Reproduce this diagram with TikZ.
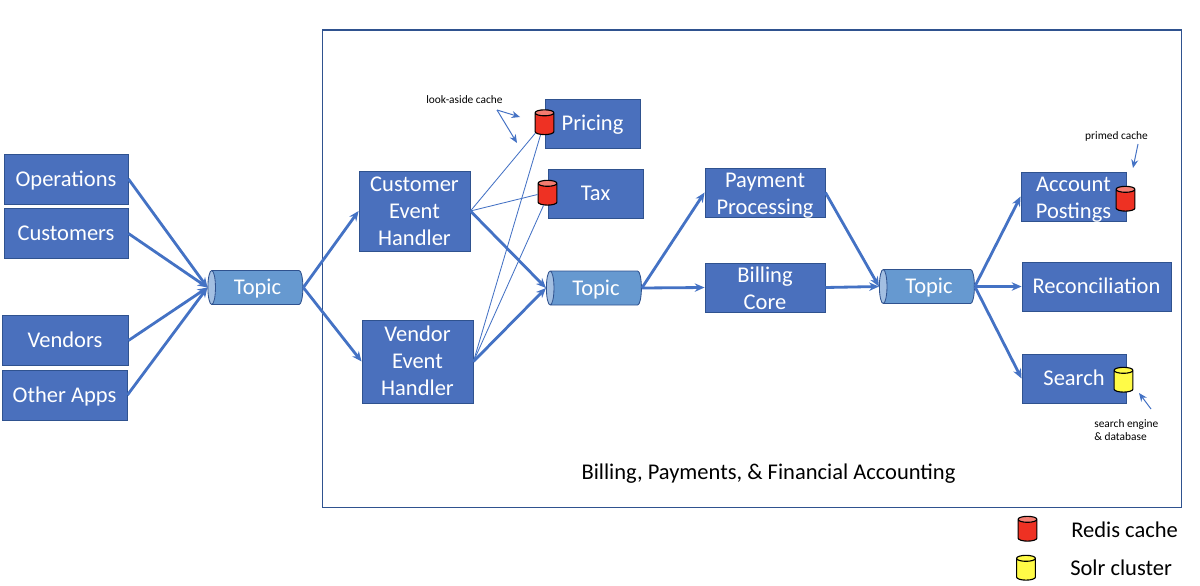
\documentclass[tikz,border=0pt]{standalone}
\usepackage{fontspec}
\setmainfont{Carlito}
\usetikzlibrary{shapes.geometric,arrows.meta}
\definecolor{boxblue}{HTML}{4A70BD}
\definecolor{boxedge}{HTML}{2F528F}
\definecolor{linkblue}{HTML}{4472C4}
\definecolor{topicblue}{HTML}{6699D0}
\definecolor{topicend}{HTML}{A3BFE2}
\definecolor{redisred}{HTML}{EE3123}
\definecolor{redisend}{HTML}{F47C70}
\definecolor{solryellow}{HTML}{FFFB47}
\newcommand{\linestrut}{\rule[-4pt]{0pt}{18pt}}
\tikzset{
  bigtext/.style={font=\fontsize{16}{19.2}\selectfont,
    execute at begin node=\linestrut,execute at end node=\linestrut},
  stacked/.style={execute at begin node=\rule{0pt}{#1}},
  twoline/.style={stacked=32.6pt,text depth=1.9pt},
  service/.style={bigtext,draw=boxedge,fill=boxblue,text=white,line width=0.6pt,inner sep=0pt,align=center},
  topic/.style={bigtext,cylinder,shape border rotate=180,aspect=0.3,draw=boxedge,line width=0.6pt,inner sep=0pt,
    minimum height=2.375cm,minimum width=0.85cm,cylinder uses custom fill,
    cylinder body fill=topicblue,cylinder end fill=topicend,text=white},
  store/.style={cylinder,shape border rotate=90,aspect=0.5,draw=black,line width=0.8pt,inner sep=0pt,
    text width=0.3cm,minimum height=0.62cm,minimum width=0.47cm,cylinder uses custom fill},
  redis/.style={store,cylinder body fill=redisred,cylinder end fill=redisend},
  solr/.style={store,cylinder body fill=solryellow,cylinder end fill=solryellow},
  flow/.style={draw=linkblue,line width=2pt,-{Stealth[length=7pt,width=6pt]}},
  cachelink/.style={draw=linkblue,line width=0.6pt},
  note/.style={draw=linkblue,line width=0.7pt,-{Stealth[length=6pt,width=5pt]}},
  small/.style={font=\fontsize{8.1}{9.6}\selectfont,inner sep=0pt,align=left},
  legend/.style={font=\fontsize{16}{19}\selectfont,inner sep=0pt,anchor=west}
}
\begin{document}
\begin{tikzpicture}[x=0.025cm,y=-0.025cm]
  \useasboundingbox (0,0) rectangle (1200,585);

  \node (frame) [draw=boxedge,line width=0.8pt,minimum width=21.45cm,minimum height=11.925cm] at (752,268.5) {};

  % sources
  \node (operations) [service,minimum width=3.1cm,minimum height=1.25cm] at (66,179) {Operations};
  \node (customers) [service,minimum width=3.1cm,minimum height=1.25cm] at (66,233.5) {Customers};
  \node (vendors) [service,minimum width=3.15cm,minimum height=1.25cm] at (65,340.5) {Vendors};
  \node (otherapps) [service,minimum width=3.125cm,minimum height=1.25cm] at (64.5,395) {Other Apps};

  % topics
  \node (topicin) [topic] at (257.5,287.5) {Topic};
  \node (topicmid) [topic] at (596,288) {Topic};
  \node (topicout) [topic] at (929,286.5) {Topic};

  % services
  \node (customer) [service,stacked=53pt,minimum width=2.775cm,minimum height=2cm] at (414.5,211) {Customer\\Event\\Handler};
  \node (vendor) [service,stacked=53pt,minimum width=2.775cm,minimum height=2.075cm] at (417.5,361.5) {Vendor\\Event\\Handler};
  \node (pricing) [service,minimum width=2.375cm,minimum height=1.225cm] at (592.5,123.5) {Pricing};
  \node (tax) [service,minimum width=2.375cm,minimum height=1.225cm] at (595.5,193.5) {Tax};
  \node (payment) [service,twoline,minimum width=3cm,minimum height=1.225cm] at (765,192.5) {Payment\\Processing};
  \node (billing) [service,twoline,minimum width=3cm,minimum height=1.225cm] at (765,287.5) {Billing\\Core};
  \node (account) [service,twoline,minimum width=2.625cm,minimum height=1.225cm] at (1073.5,196.5) {Account\\Postings};
  \node (reconciliation) [service,minimum width=3.725cm,minimum height=1.225cm] at (1096.5,286.5) {Reconciliation};
  \node (search) [service,minimum width=2.6cm,minimum height=1.225cm] at (1074,378.5) {Search};

  % caches
  \node (pricingcache) [redis] at (544.5,124) {};
  \node (taxcache) [redis] at (547.5,194.5) {};
  \node (accountcache) [redis] at (1125.5,200.5) {};
  \node (searchindex) [solr] at (1123.5,381.5) {};

  % cache lookups
  \draw [cachelink] (customer.east) -- (pricingcache.225);
  \draw [cachelink] (customer.east) -- (taxcache.west);
  \draw [cachelink] (vendor.east) -- (pricingcache.250);
  \draw [cachelink] (vendor.east) -- (taxcache.250);

  % main flow
  \draw [flow] (operations.east) -- (topicin.west);
  \draw [flow] (customers.east) -- (topicin.west);
  \draw [flow] (vendors.east) -- (topicin.west);
  \draw [flow] (otherapps.east) -- (topicin.west);
  \draw [flow] (topicin.east) -- (customer.west);
  \draw [flow] (topicin.east) -- (vendor.west);
  \draw [flow] (customer.east) -- (topicmid.west);
  \draw [flow] (vendor.east) -- (topicmid.west);
  \draw [flow] (topicmid.east) -- (payment.west);
  \draw [flow] (topicmid.east) -- (billing.west);
  \draw [flow] (payment.east) -- (topicout.west);
  \draw [flow] (billing.east) -- (topicout.west);
  \draw [flow] (topicout.east) -- (account.west);
  \draw [flow] (topicout.east) -- (reconciliation.west);
  \draw [flow] (topicout.east) -- (search.west);

  % notes
  \node (lookaside) [small] at (464.5,100) {look-aside cache};
  \coordinate (lookfork) at (497,110);
  \coordinate (lookone) at (520,117);
  \coordinate (looktwo) at (517,143);
  \draw [note] (lookfork) -- (lookone);
  \draw [note] (lookfork) -- (looktwo);

  \node (primed) [small] at (1116.5,136) {primed cache};
  \coordinate (primedstart) at (1138,144);
  \coordinate (primedend) at (1133,168);
  \draw [note] (primedstart) -- (primedend);

  \node (searchnote) [small,anchor=north west] at (1094,419) {search engine\\\& database};
  \coordinate (searchstart) at (1151,409);
  \coordinate (searchend) at (1139,393);
  \draw [note] (searchstart) -- (searchend);

  \node (caption) [font=\fontsize{16}{19}\selectfont,inner sep=0pt] at (768.5,474) {Billing, Payments, \& Financial Accounting};

  % legend
  \node (rediskey) [redis] at (1027.5,530.5) {};
  \node (solrkey) [solr] at (1026,569.5) {};
  \node (redislabel) [legend] at (1071,530) {Redis cache};
  \node (solrlabel) [legend] at (1070,568) {Solr cluster};
\end{tikzpicture}
\end{document}
